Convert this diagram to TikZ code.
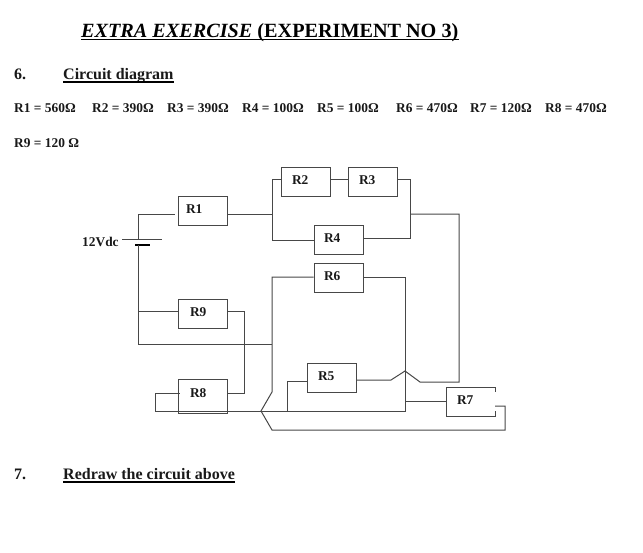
\documentclass[tikz,border=0pt]{standalone}
\usepackage{fontspec}
\setmainfont{Liberation Serif}
\definecolor{wire}{gray}{0.28}
\newcommand{\rlab}[2]{\makebox[49pt][l]{\hspace{#1pt}\raisebox{2pt}{#2}}}
\tikzset{
  txt/.style={anchor=base west,inner sep=0pt,font=\bfseries\fontsize{13.4}{15}\selectfont,text=black!90},
  head/.style={txt,font=\bfseries\fontsize{16}{18}\selectfont},
  ttl/.style={txt,font=\bfseries\fontsize{20.2}{23}\selectfont,text=black},
  rbox/.style={draw=wire,line width=1pt,minimum width=49pt,minimum height=29pt,inner sep=0pt,font=\bfseries\fontsize{13.4}{15}\selectfont,text=black!90},
  wired/.style={draw=wire,line width=1pt,line join=miter},
  ul/.style={draw=black,line width=1.4pt},
}
\begin{document}
\begin{tikzpicture}[x=1pt,y=-1pt]
\useasboundingbox (0,0) rectangle (643,552);
% headings
\node[ttl] (title) at (81,37) {\textit{EXTRA EXERCISE} (EXPERIMENT NO 3)};
\draw[ul] ([yshift=-2.5pt]title.base west) -- ([yshift=-2.5pt]title.base east);
\node[head] (six) at (14,79) {6.};
\node[head] (cd) at (63,79) {Circuit diagram};
\draw[ul] ([yshift=-3pt]cd.base west) -- ([yshift=-3pt]cd.base east);
\node[txt] (v1) at (14,112) {R1 = 560Ω};
\node[txt] (v2) at (92,112) {R2 = 390Ω};
\node[txt] (v3) at (167,112) {R3 = 390Ω};
\node[txt] (v4) at (242,112) {R4 = 100Ω};
\node[txt] (v5) at (317,112) {R5 = 100Ω};
\node[txt] (v6) at (396,112) {R6 = 470Ω};
\node[txt] (v7) at (470,112) {R7 = 120Ω};
\node[txt] (v8) at (545,112) {R8 = 470Ω};
\node[txt] (v9) at (14,147) {R9 = 120 Ω};
\node[head] (seven) at (14,479) {7.};
\node[head] (rd) at (63,479) {Redraw the circuit above};
\draw[ul] ([yshift=-3pt]rd.base west) -- ([yshift=-3pt]rd.base east);
% resistors
\node[rbox] (R1) at (202.5,210.5) {\rlab{8}{R1}};
\node[rbox] (R2) at (305.5,181.5) {\rlab{11}{R2}};
\node[rbox] (R3) at (372.5,181.5) {\rlab{11}{R3}};
\node[rbox] (R4) at (338.5,239.5) {\rlab{10}{R4}};
\node[rbox] (R6) at (338.5,277.5) {\rlab{10}{R6}};
\node[rbox] (R9) at (202.5,313.5) {\rlab{12}{R9}};
\node[rbox,minimum height=34pt] (R8) at (202.5,396) {\rlab{12}{\raisebox{3pt}{R8}}};
\node[rbox] (R5) at (331.5,377.5) {\rlab{11}{R5}};
\node[rbox,draw=none] (R7) at (470.5,401.5) {\rlab{11}{R7}};
\node[txt] (vdc) at (82,246) {12Vdc};
% battery
\coordinate (bl) at (122,239); \coordinate (br) at (162,239);
\coordinate (bt) at (138,239);
\coordinate (sl) at (135,245); \coordinate (sr) at (150,245);
\coordinate (bb) at (138,245);
\draw[wired] (bl) -- (br);
\draw[draw=black,line width=1.6pt] (sl) -- (sr);
% junctions
\coordinate (a1) at (138,214);
\coordinate (a2) at (138,311);
\coordinate (a3) at (138,344);
\coordinate (j1) at (272,214);
\coordinate (j1t) at (272,179);
\coordinate (j1b) at (272,240);
\coordinate (j2) at (410,214);
\coordinate (j2t) at (410,179);
\coordinate (j2b) at (410,238);
\coordinate (c1) at (459,214);
\coordinate (c2) at (459,382);
\coordinate (c3) at (420,382);
\coordinate (hop) at (405,371);
\coordinate (c4) at (391,380);
\coordinate (d1) at (272,277);
\coordinate (d2) at (272,344);
\coordinate (d3) at (272,392);
\coordinate (d4) at (261,411);
\coordinate (d5) at (272,430);
\coordinate (d6) at (505,430);
\coordinate (d7) at (505,406);
\coordinate (e1) at (405,277);
\coordinate (e2) at (405,401);
\coordinate (e3) at (405,411);
\coordinate (f1) at (155,393);
\coordinate (f2) at (155,411);
\coordinate (g1) at (244,393);
\coordinate (g2) at (244,311);
\coordinate (h1) at (287,381);
\coordinate (h2) at (287,411);
% R7 open outline
\coordinate (r1) at (495,391.5);
\coordinate (r2) at (495,387);
\coordinate (r3) at (446,387);
\coordinate (r4) at (446,416);
\coordinate (r5) at (495,416);
\coordinate (r6) at (495,411);
\coordinate (r7) at (495,406);
\coordinate (r8) at (446,401);
\draw[wired] (r1) -- (r2) -- (r3) -- (r4) -- (r5) -- (r6);
% wires
\draw[wired] (bt) -- (a1) -- ([xshift=-3pt]R1.west |- a1);
\draw[wired] (bb) -- (a3) -- (d2);
\draw[wired] (a2) -- (R9.west |- a2);
\draw[wired] (R1.east |- j1) -- (j1);
\draw[wired] (R2.west |- j1t) -- (j1t) -- (j1b) -- (R4.west |- j1b);
\draw[wired] (R2.east |- j1t) -- (R3.west |- j1t);
\draw[wired] (R3.east |- j2t) -- (j2t) -- (j2b) -- (R4.east |- j2b);
\draw[wired] (j2) -- (c1) -- (c2) -- (c3) -- (hop) -- (c4) -- (R5.east |- c4);
\draw[wired] (R6.west |- d1) -- (d1) -- (d3) -- (d4) -- (d5) -- (d6) -- (d7) -- (r7);
\draw[wired] (R6.east |- e1) -- (e1) -- (e3) -- (f2) -- (f1) -- ([xshift=2pt]R8.west |- f1);
\draw[wired] (e2) -- (r8);
\draw[wired] (R8.east |- g1) -- (g1) -- (g2) -- (R9.east |- g2);
\draw[wired] (R5.west |- h1) -- (h1) -- (h2);
\end{tikzpicture}
\end{document}
